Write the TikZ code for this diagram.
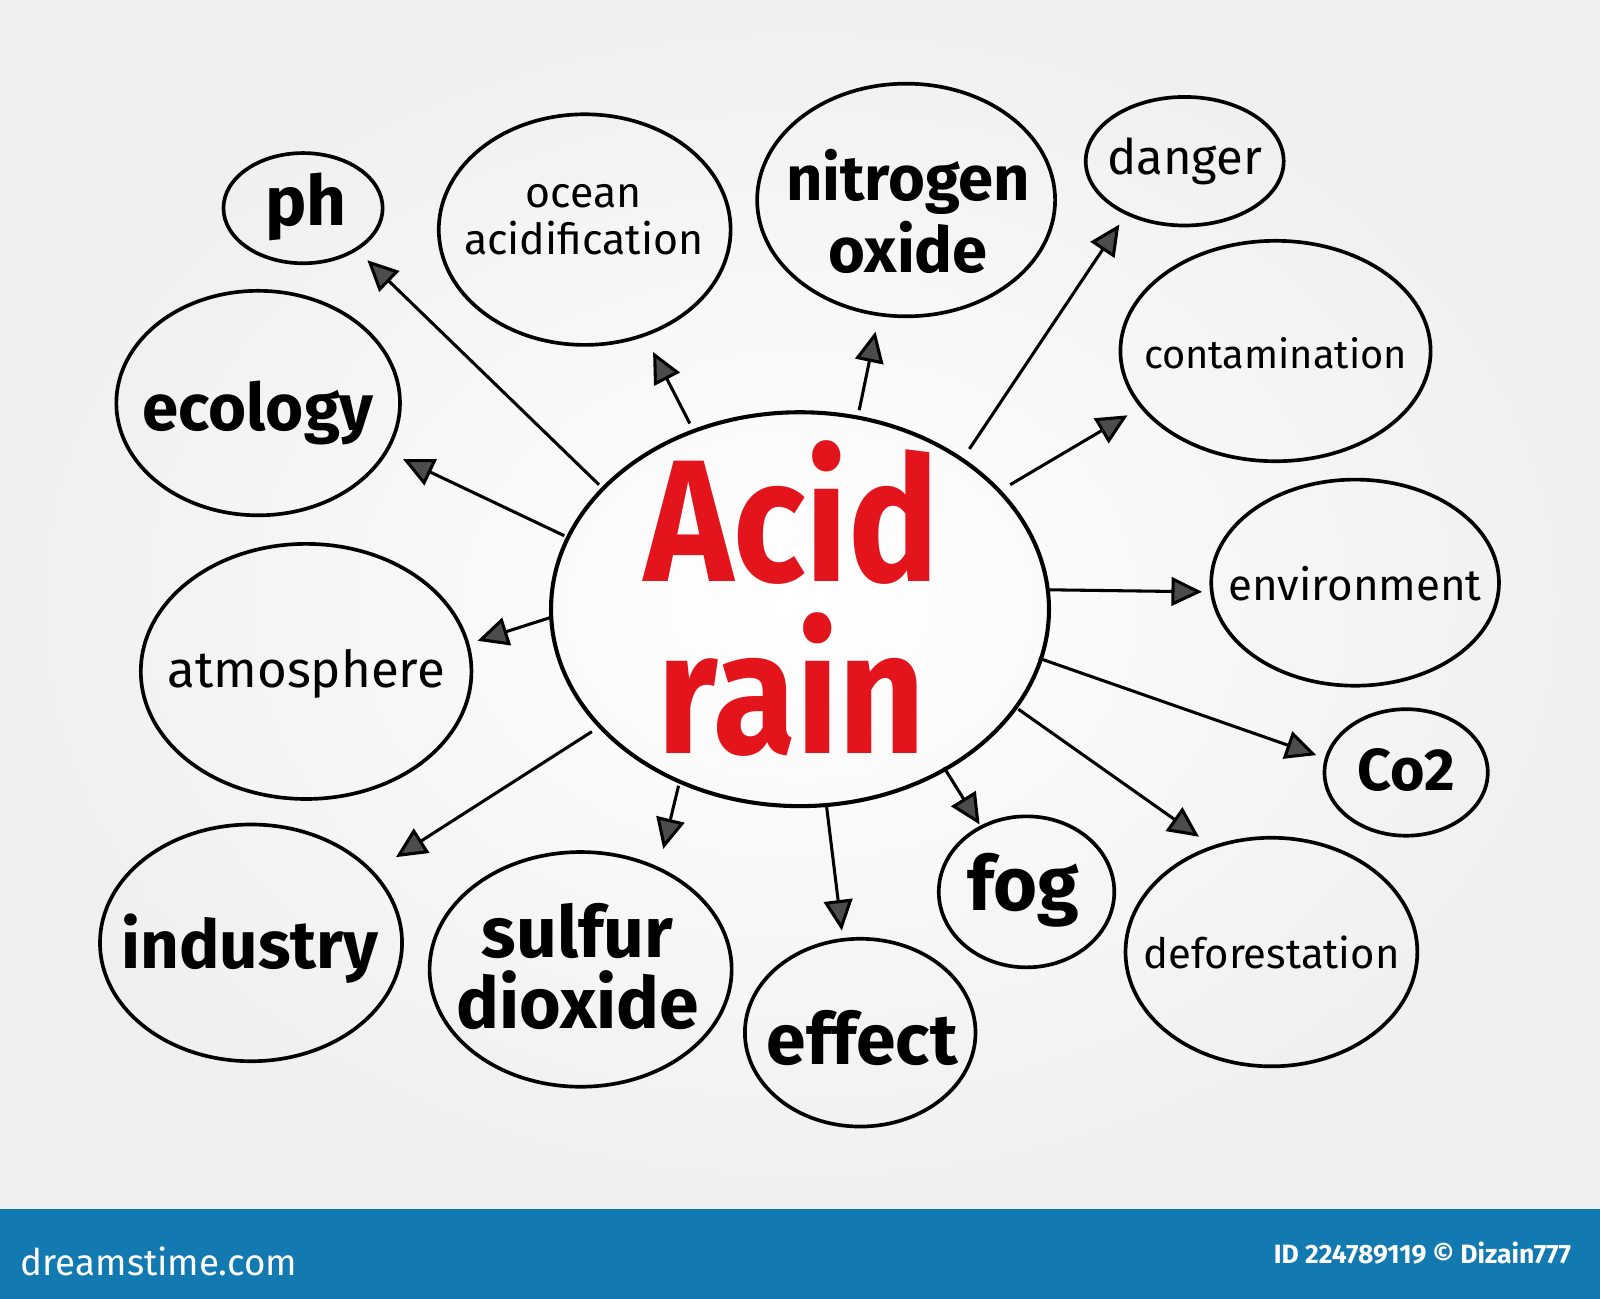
\documentclass[tikz,border=0pt]{standalone}
\usepackage{fontspec}
\setmainfont{Fira Sans}
\usetikzlibrary{shapes.geometric,arrows.meta}
\definecolor{acidred}{HTML}{E3141B}
\definecolor{barblue}{HTML}{1279B1}
\newcommand{\fsz}[2]{\fontsize{#1}{#2}\selectfont}
\begin{document}
\begin{tikzpicture}[x=0.5pt,y=-0.5pt,
  bub/.style={draw=black,line width=1.8pt,ellipse,inner sep=0pt},
  lbl/.style={align=center,text=black,inner sep=0pt},
  big/.style={lbl,font=\bfseries\fsz{32}{35}},
  small/.style={lbl,font=\fsz{21}{23}},
  arr/.style={line width=1.5pt,-{Triangle[length=15pt,width=14pt,fill=black!70]}}]
\useasboundingbox (0,0) rectangle (1568,1273);
\shade[inner color=white,outer color=black!6] (0,0) rectangle (1568,1185);
\fill[barblue] (0,1185) rectangle (1568,1273);
\node[font=\fsz{18}{20},text=white,anchor=west,inner sep=0pt] (ds) at (20,1236) {dreamstime.com};
\node[font=\bfseries\fsz{13}{15},text=white,anchor=east,inner sep=0pt] (id) at (1540,1228) {ID 224789119 © Dizain777};

% central
\node[bub,line width=2pt,minimum width=244pt,minimum height=193pt] (c) at (784,597) {};
\node[text=acidred,font=\bfseries\fsz{74}{44},inner sep=0pt] (acidrain) at (776,600)
  {\scalebox{1}[1.15]{\begin{tabular}{@{}c@{}}Acid\\rain\end{tabular}}};

% satellites
\node[bub,minimum width=78pt,minimum height=54pt] (ph) at (297,204) {};
\node[bub,minimum width=143pt,minimum height=113pt] (ocean) at (573,225) {};
\node[bub,minimum width=146pt,minimum height=114pt] (nitro) at (888,196) {};
\node[bub,minimum width=97pt,minimum height=63pt] (danger) at (1161,158) {};
\node[bub,minimum width=152pt,minimum height=108pt] (contam) at (1250,344) {};
\node[bub,minimum width=141pt,minimum height=101pt] (env) at (1328,571) {};
\node[bub,minimum width=80pt,minimum height=62pt] (co2) at (1378,757) {};
\node[bub,minimum width=143pt,minimum height=112pt] (defor) at (1246,933) {};
\node[bub,minimum width=86pt,minimum height=74pt] (fog) at (1006,874) {};
\node[bub,minimum width=113pt,minimum height=92pt] (effect) at (843,1012) {};
\node[bub,minimum width=148pt,minimum height=115pt] (sulfur) at (569,950) {};
\node[bub,minimum width=148pt,minimum height=116pt] (industry) at (246,924) {};
\node[bub,minimum width=162pt,minimum height=125pt] (atmos) at (300,658) {};
\node[bub,minimum width=139pt,minimum height=110pt] (ecology) at (253,395) {};

% labels
\node[big,font=\bfseries\fsz{34}{35}] (tph) at (300,203) {ph};
\node[small,font=\fsz{21}{23}] (tocean) at (572,215) {ocean\\acidification};
\node[big,font=\bfseries\fsz{31}{35}] (tnitro) at (890,207) {nitrogen\\oxide};
\node[small,font=\fsz{24}{26}] (tdanger) at (1161,158) {danger};
\node[small,font=\fsz{19.5}{22}] (tcontam) at (1250,346) {contamination};
\node[small,font=\fsz{21.5}{24}] (tenv) at (1328,572) {environment};
\node[big,font=\bfseries\fsz{29}{32}] (tco2) at (1378,755) {Co2};
\node[small,font=\fsz{20.5}{24}] (tdefor) at (1246,933) {deforestation};
\node[big,font=\bfseries\fsz{37}{40}] (tfog) at (1003,872) {fog};
\node[big,font=\bfseries\fsz{35}{40}] (teffect) at (845,1017) {effect};
\node[big,font=\bfseries\fsz{35}{35}] (tsulfur) at (566,947) {sulfur\\dioxide};
\node[big,font=\bfseries\fsz{33}{35}] (tindustry) at (245,930) {industry};
\node[small,font=\fsz{25}{28}] (tatmos) at (300,660) {atmosphere};
\node[big,font=\bfseries\fsz{32}{35}] (tecology) at (253,405) {ecology};

% arrow endpoints
\coordinate (s1) at (587,475);  \coordinate (e1) at (360,255);
\coordinate (s2) at (676,415);  \coordinate (e2) at (640,345);
\coordinate (s3) at (842,402);  \coordinate (e3) at (858,325);
\coordinate (s4) at (950,440);  \coordinate (e4) at (1097,220);
\coordinate (s5) at (990,475);  \coordinate (e5) at (1105,407);
\coordinate (s6) at (1028,578); \coordinate (e6) at (1178,580);
\coordinate (s7) at (1018,645); \coordinate (e7) at (1290,740);
\coordinate (s8) at (998,695);  \coordinate (e8) at (1175,820);
\coordinate (s9) at (925,752);  \coordinate (e9) at (960,808);
\coordinate (s10) at (810,790); \coordinate (e10) at (825,912);
\coordinate (s11) at (665,770); \coordinate (e11) at (650,832);
\coordinate (s12) at (580,717); \coordinate (e12) at (388,840);
\coordinate (s13) at (540,605); \coordinate (e13) at (468,628);
\coordinate (s14) at (553,525); \coordinate (e14) at (395,450);
\foreach \i in {1,...,14} {\draw[arr] (s\i) -- (e\i);}
\end{tikzpicture}
\end{document}
